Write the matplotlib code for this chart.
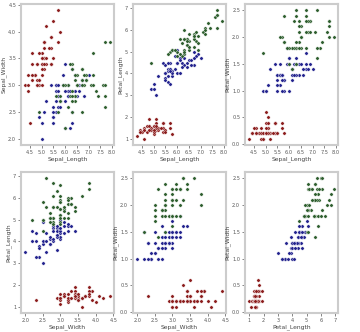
import matplotlib
matplotlib.use("Agg")
import matplotlib.pyplot as plt
from matplotlib.ticker import MultipleLocator
import numpy as np

# iris measurements, 50 rows per species
setosa = [
    (5.1, 3.5, 1.4, 0.2), (4.9, 3.0, 1.4, 0.2), (4.7, 3.2, 1.3, 0.2), (4.6, 3.1, 1.5, 0.2),
    (5.0, 3.6, 1.4, 0.2), (5.4, 3.9, 1.7, 0.4), (4.6, 3.4, 1.4, 0.3), (5.0, 3.4, 1.5, 0.2),
    (4.4, 2.9, 1.4, 0.2), (4.9, 3.1, 1.5, 0.1), (5.4, 3.7, 1.5, 0.2), (4.8, 3.4, 1.6, 0.2),
    (4.8, 3.0, 1.4, 0.1), (4.3, 3.0, 1.1, 0.1), (5.8, 4.0, 1.2, 0.2), (5.7, 4.4, 1.5, 0.4),
    (5.4, 3.9, 1.3, 0.4), (5.1, 3.5, 1.4, 0.3), (5.7, 3.8, 1.7, 0.3), (5.1, 3.8, 1.5, 0.3),
    (5.4, 3.4, 1.7, 0.2), (5.1, 3.7, 1.5, 0.4), (4.6, 3.6, 1.0, 0.2), (5.1, 3.3, 1.7, 0.5),
    (4.8, 3.4, 1.9, 0.2), (5.0, 3.0, 1.6, 0.2), (5.0, 3.4, 1.6, 0.4), (5.2, 3.5, 1.5, 0.2),
    (5.2, 3.4, 1.4, 0.2), (4.7, 3.2, 1.6, 0.2), (4.8, 3.1, 1.6, 0.2), (5.4, 3.4, 1.5, 0.4),
    (5.2, 4.1, 1.5, 0.1), (5.5, 4.2, 1.4, 0.2), (4.9, 3.1, 1.5, 0.2), (5.0, 3.2, 1.2, 0.2),
    (5.5, 3.5, 1.3, 0.2), (4.9, 3.6, 1.4, 0.1), (4.4, 3.0, 1.3, 0.2), (5.1, 3.4, 1.5, 0.2),
    (5.0, 3.5, 1.3, 0.3), (4.5, 2.3, 1.3, 0.3), (4.4, 3.2, 1.3, 0.2), (5.0, 3.5, 1.6, 0.6),
    (5.1, 3.8, 1.9, 0.4), (4.8, 3.0, 1.4, 0.3), (5.1, 3.8, 1.6, 0.2), (4.6, 3.2, 1.4, 0.2),
    (5.3, 3.7, 1.5, 0.2), (5.0, 3.3, 1.4, 0.2),
]
versicolor = [
    (7.0, 3.2, 4.7, 1.4), (6.4, 3.2, 4.5, 1.5), (6.9, 3.1, 4.9, 1.5), (5.5, 2.3, 4.0, 1.3),
    (6.5, 2.8, 4.6, 1.5), (5.7, 2.8, 4.5, 1.3), (6.3, 3.3, 4.7, 1.6), (4.9, 2.4, 3.3, 1.0),
    (6.6, 2.9, 4.6, 1.3), (5.2, 2.7, 3.9, 1.4), (5.0, 2.0, 3.5, 1.0), (5.9, 3.0, 4.2, 1.5),
    (6.0, 2.2, 4.0, 1.0), (6.1, 2.9, 4.7, 1.4), (5.6, 2.9, 3.6, 1.3), (6.7, 3.1, 4.4, 1.4),
    (5.6, 3.0, 4.5, 1.5), (5.8, 2.7, 4.1, 1.0), (6.2, 2.2, 4.5, 1.5), (5.6, 2.5, 3.9, 1.1),
    (5.9, 3.2, 4.8, 1.8), (6.1, 2.8, 4.0, 1.3), (6.3, 2.5, 4.9, 1.5), (6.1, 2.8, 4.7, 1.2),
    (6.4, 2.9, 4.3, 1.3), (6.6, 3.0, 4.4, 1.4), (6.8, 2.8, 4.8, 1.4), (6.7, 3.0, 5.0, 1.7),
    (6.0, 2.9, 4.5, 1.5), (5.7, 2.6, 3.5, 1.0), (5.5, 2.4, 3.8, 1.1), (5.5, 2.4, 3.7, 1.0),
    (5.8, 2.7, 3.9, 1.2), (6.0, 2.7, 5.1, 1.6), (5.4, 3.0, 4.5, 1.5), (6.0, 3.4, 4.5, 1.6),
    (6.7, 3.1, 4.7, 1.5), (6.3, 2.3, 4.4, 1.3), (5.6, 3.0, 4.1, 1.3), (5.5, 2.5, 4.0, 1.3),
    (5.5, 2.6, 4.4, 1.2), (6.1, 3.0, 4.6, 1.4), (5.8, 2.6, 4.0, 1.2), (5.0, 2.3, 3.3, 1.0),
    (5.6, 2.7, 4.2, 1.3), (5.7, 3.0, 4.2, 1.2), (5.7, 2.9, 4.2, 1.3), (6.2, 2.9, 4.3, 1.3),
    (5.1, 2.5, 3.0, 1.1), (5.7, 2.8, 4.1, 1.3),
]
virginica = [
    (6.3, 3.3, 6.0, 2.5), (5.8, 2.7, 5.1, 1.9), (7.1, 3.0, 5.9, 2.1), (6.3, 2.9, 5.6, 1.8),
    (6.5, 3.0, 5.8, 2.2), (7.6, 3.0, 6.6, 2.1), (4.9, 2.5, 4.5, 1.7), (7.3, 2.9, 6.3, 1.8),
    (6.7, 2.5, 5.8, 1.8), (7.2, 3.6, 6.1, 2.5), (6.5, 3.2, 5.1, 2.0), (6.4, 2.7, 5.3, 1.9),
    (6.8, 3.0, 5.5, 2.1), (5.7, 2.5, 5.0, 2.0), (5.8, 2.8, 5.1, 2.4), (6.4, 3.2, 5.3, 2.3),
    (6.5, 3.0, 5.5, 1.8), (7.7, 3.8, 6.7, 2.2), (7.7, 2.6, 6.9, 2.3), (6.0, 2.2, 5.0, 1.5),
    (6.9, 3.2, 5.7, 2.3), (5.6, 2.8, 4.9, 2.0), (7.7, 2.8, 6.7, 2.0), (6.3, 2.7, 4.9, 1.8),
    (6.7, 3.3, 5.7, 2.1), (7.2, 3.2, 6.0, 1.8), (6.2, 2.8, 4.8, 1.8), (6.1, 3.0, 4.9, 1.8),
    (6.4, 2.8, 5.6, 2.1), (7.2, 3.0, 5.8, 1.6), (7.4, 2.8, 6.1, 1.9), (7.9, 3.8, 6.4, 2.0),
    (6.4, 2.8, 5.6, 2.2), (6.3, 2.8, 5.1, 1.5), (6.1, 2.6, 5.6, 1.4), (7.7, 3.0, 6.1, 2.3),
    (6.3, 3.4, 5.6, 2.4), (6.4, 3.1, 5.5, 1.8), (6.0, 3.0, 4.8, 1.8), (6.9, 3.1, 5.4, 2.1),
    (6.7, 3.1, 5.6, 2.4), (6.9, 3.1, 5.1, 2.3), (5.8, 2.7, 5.1, 1.9), (6.8, 3.2, 5.9, 2.3),
    (6.7, 3.3, 5.7, 2.5), (6.7, 3.0, 5.2, 2.3), (6.3, 2.5, 5.0, 1.9), (6.5, 3.0, 5.2, 2.0),
    (6.2, 3.4, 5.4, 2.3), (5.9, 3.0, 5.1, 1.8),
]

columns = ["Sepal_Length", "Sepal_Width", "Petal_Length", "Petal_Width"]
tick_step = [0.5, 0.5, 1.0, 0.5]
species = [setosa, versicolor, virginica]
colors = ["#8b1c1c", "#22228e", "#2d5e2d"]

pairs = [(0, 1), (0, 2), (0, 3), (1, 2), (1, 3), (2, 3)]

fig = plt.figure(figsize=(3.6, 3.32), dpi=100)
lefts = [21, 133, 245]
bottoms = [332 - 145, 332 - 313]
w, h = 93, 141

for k, (i, j) in enumerate(pairs):
    r, c = divmod(k, 3)
    ax = fig.add_axes([lefts[c] / 360, bottoms[r] / 332, w / 360, h / 332])
    for rows, col in zip(species, colors):
        arr = np.array(rows)
        ax.scatter(arr[:, i], arr[:, j], s=6, c=col, edgecolors="white", linewidths=0.3)
    ax.xaxis.set_major_locator(MultipleLocator(tick_step[i]))
    ax.yaxis.set_major_locator(MultipleLocator(tick_step[j]))
    ax.set_xlabel(columns[i], fontsize=4.3, color="#444444", labelpad=1)
    ax.set_ylabel(columns[j], fontsize=4.3, color="#444444", labelpad=1)
    ax.tick_params(labelsize=3.6, colors="#555555", length=2, width=0.5, pad=1.5)
    for sp in ax.spines.values():
        sp.set_color("#cccccc")
        sp.set_linewidth(1.5)

fig.savefig("out.png", dpi=100)
